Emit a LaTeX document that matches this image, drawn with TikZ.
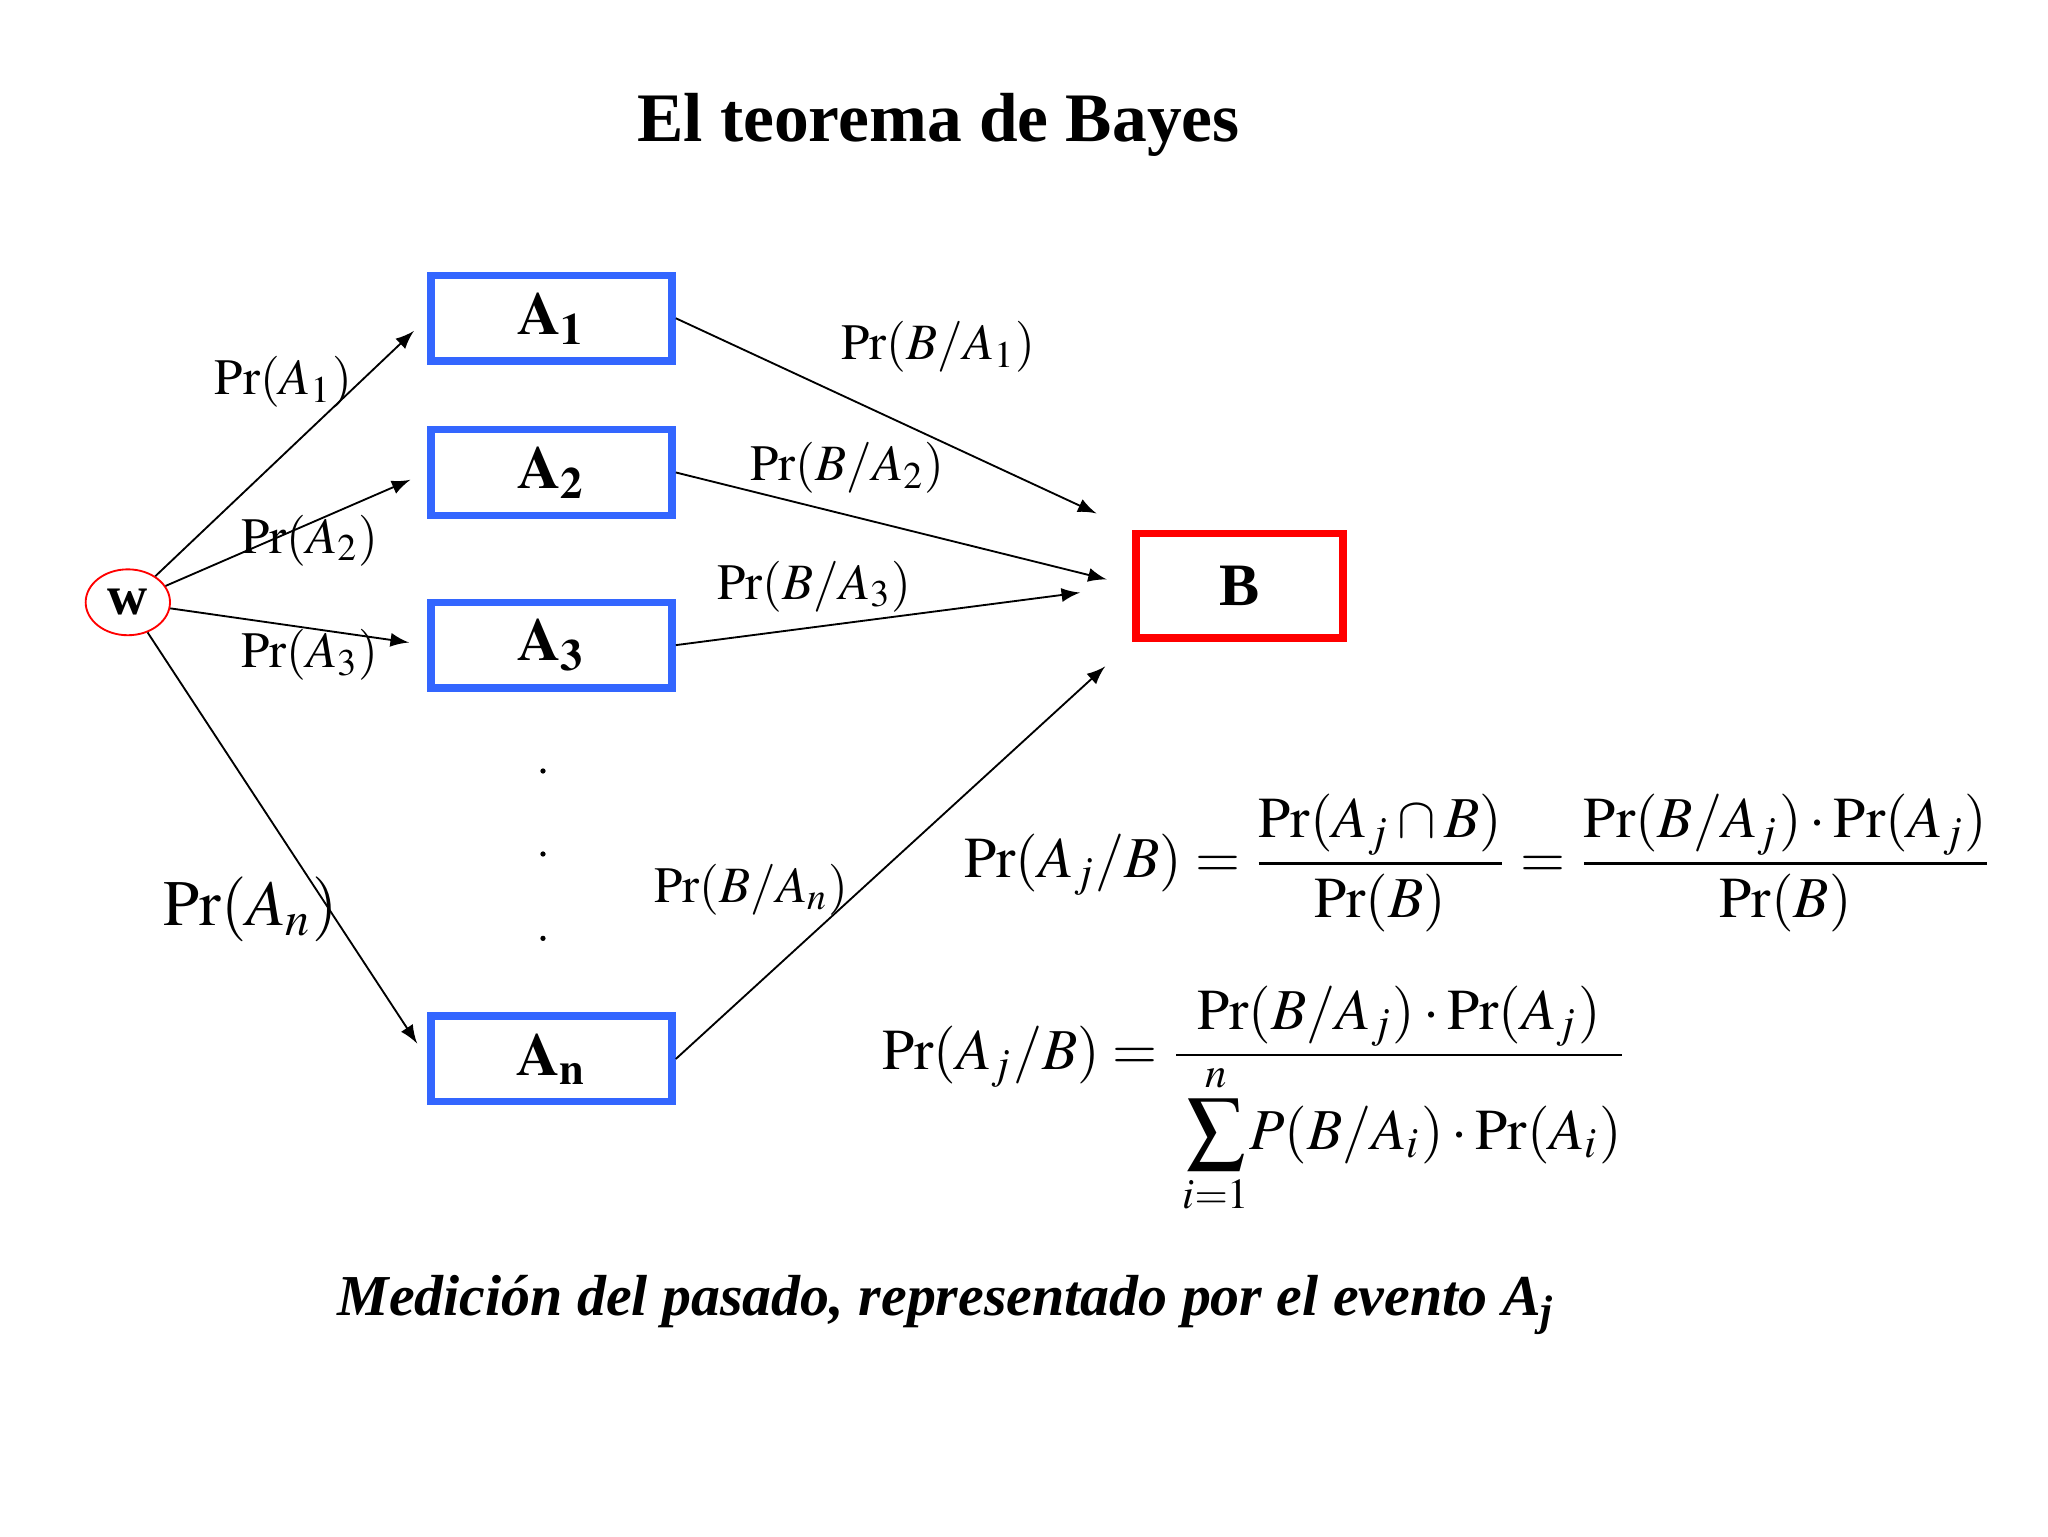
\documentclass[tikz,border=0pt]{standalone}
\usepackage{amsmath,mathptmx}
\usepackage{fontspec}
\setmainfont{Liberation Serif}
\usetikzlibrary{shapes,calc}
\tikzset{
  evbox/.style={draw=blue!75!cyan!80!white,line width=1.6pt,rectangle,minimum width=1.83cm,minimum height=0.65cm,font=\fontsize{13}{15}\selectfont},
  arr/.style={-latex,shorten >=0.14cm},
  lab/.style={font=\fontsize{11}{13}\selectfont}
}
\begin{document}
\begin{tikzpicture}[y=-1cm]
\useasboundingbox (0,0) rectangle (15.54,11.66);
\node[font=\fontsize{15}{18}\selectfont\bfseries] (T) at (7.12,0.95) {El teorema de Bayes};
\node[draw=red,ellipse,minimum width=0.64cm,minimum height=0.5cm,inner sep=0pt,font=\fontsize{12}{14}\selectfont\bfseries] (w) at (0.97,4.57) {w};
\node[evbox] (A1) at (4.185,2.415) {$\mathbf{A_1}$};
\node[evbox] (A2) at (4.185,3.585) {$\mathbf{A_2}$};
\node[evbox] (A3) at (4.185,4.895) {$\mathbf{A_3}$};
\node[evbox] (An) at (4.185,8.035) {$\mathbf{A_n}$};
\node[draw=red,line width=1.6pt,rectangle,minimum width=1.57cm,minimum height=0.79cm,font=\fontsize{13}{15}\selectfont\bfseries] (B) at (9.405,4.445) {B};
\foreach \y in {5.85,6.48,7.12} {
  \fill (4.12,\y) circle (0.02);
}
% w to events
\draw[arr] (w) -- (A1.west);
\draw[arr] (w) -- (A2.west);
\draw[arr] (w) -- (A3.west);
\draw[arr] (w) -- (An.west);
% events to B
\draw[arr,shorten >=0.3cm] (A1.east) -- (B.north west);
\draw[arr,shorten >=0.2cm] (A2.east) -- (B.west);
\draw[arr,shorten >=0.4cm] (A3.east) -- (B.west);
\draw[arr,shorten >=0.28cm] (An.east) -- (B.south west);
\node[lab] (p1) at (2.15,2.9) {$\Pr(A_1)$};
\node[lab] (p2) at (2.35,4.1) {$\Pr(A_2)$};
\node[lab] (p3) at (2.35,4.97) {$\Pr(A_3)$};
\node[font=\fontsize{14}{16}\selectfont] (pn) at (1.9,6.9) {$\Pr(A_n)$};
\node[lab] (q1) at (7.12,2.63) {$\Pr(B/A_1)$};
\node[lab] (q2) at (6.43,3.55) {$\Pr(B/A_2)$};
\node[lab] (q3) at (6.18,4.45) {$\Pr(B/A_3)$};
\node[lab] (qn) at (5.7,6.75) {$\Pr(B/A_n)$};
\node[font=\fontsize{12.5}{15}\selectfont] (F1) at (11.22,6.55)
  {$\Pr(A_j/B)=\dfrac{\Pr(A_j\cap B)}{\Pr(B)}=\dfrac{\Pr(B/A_j)\cdot\Pr(A_j)}{\Pr(B)}$};
\node[font=\fontsize{12.5}{15}\selectfont] (F2) at (9.52,8.35)
  {$\Pr(A_j/B)=\dfrac{\Pr(B/A_j)\cdot\Pr(A_j)}{\rule{0pt}{1.1em}\displaystyle\sum_{i=1}^{n}\!P(B/A_i)\cdot\Pr(A_i)}$};
\node[font=\fontsize{12.5}{15}\selectfont\bfseries\itshape] (C) at (7.18,9.9) {Medición del pasado, representado por el evento A\textsubscript{j}};
\end{tikzpicture}
\end{document}
